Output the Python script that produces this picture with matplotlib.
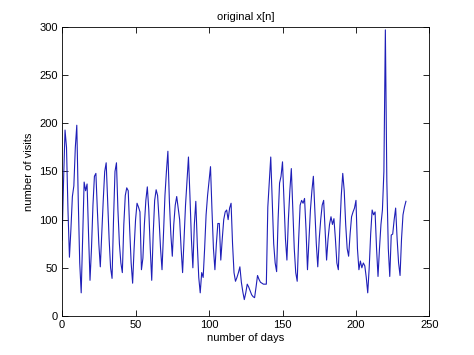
import numpy as np
import matplotlib
matplotlib.use('Agg')
import matplotlib.pyplot as plt

# daily visit counts
visits = [
    79, 140, 193, 175, 110, 61, 90, 124, 135, 175,
    198, 120, 55, 24, 80, 139, 130, 137, 85, 37,
    70, 115, 145, 148, 110, 75, 51, 85, 120, 150,
    159, 120, 80, 50, 39, 100, 150, 159, 110, 75,
    55, 45, 95, 125, 133, 130, 90, 55, 34, 70,
    100, 117, 113, 108, 48, 60, 95, 120, 134, 110,
    70, 37, 85, 120, 131, 125, 100, 70, 48, 85,
    125, 150, 171, 120, 85, 62, 95, 115, 124, 112,
    100, 70, 45, 80, 115, 140, 165, 125, 80, 50,
    95, 119, 75, 40, 24, 45, 40, 70, 105, 125,
    140, 155, 110, 70, 48, 75, 96, 96, 58, 80,
    100, 108, 110, 100, 112, 117, 75, 45, 36, 40,
    45, 51, 35, 25, 17, 24, 33, 30, 26, 22,
    20, 19, 30, 42, 38, 35, 34, 33, 33, 33,
    113, 140, 165, 120, 75, 55, 46, 100, 138, 145,
    160, 120, 80, 58, 100, 130, 153, 110, 70, 45,
    36, 80, 115, 120, 117, 122, 90, 48, 80, 110,
    130, 145, 110, 75, 51, 80, 100, 115, 120, 90,
    58, 80, 95, 103, 95, 101, 80, 55, 48, 90,
    125, 148, 130, 95, 70, 62, 85, 103, 108, 112,
    120, 70, 48, 57, 50, 55, 52, 40, 24, 50,
    85, 110, 105, 108, 70, 41, 70, 95, 110, 150,
    297, 140, 70, 41, 84, 85, 100, 112, 80, 55,
    42, 80, 105, 113, 119,
]
days = np.arange(len(visits))

plt.rcParams['font.family'] = ['Liberation Sans', 'DejaVu Sans']
plt.rcParams['font.size'] = 8

fig = plt.figure(figsize=(4.74, 3.55), dpi=100)
ax = fig.add_axes([0.131, 0.110, 0.775, 0.814])
ax.plot(days, visits, color=(0.12, 0.12, 0.72), linewidth=0.8)

ax.set_xlim(0, 250)
ax.set_ylim(0, 300)
ax.set_xticks(np.arange(0, 251, 50))
ax.set_yticks(np.arange(0, 301, 50))
ax.tick_params(direction='in', top=True, right=True, length=4, width=0.6,
               labelsize=8, pad=3)
for s in ax.spines.values():
    s.set_linewidth(0.6)

ax.set_xlabel('number of days', fontsize=8, labelpad=2)
ax.set_ylabel('number of visits', fontsize=8, labelpad=4)
ax.set_title('original x[n]', fontsize=8, pad=5)

plt.savefig('out.png', dpi=100)
